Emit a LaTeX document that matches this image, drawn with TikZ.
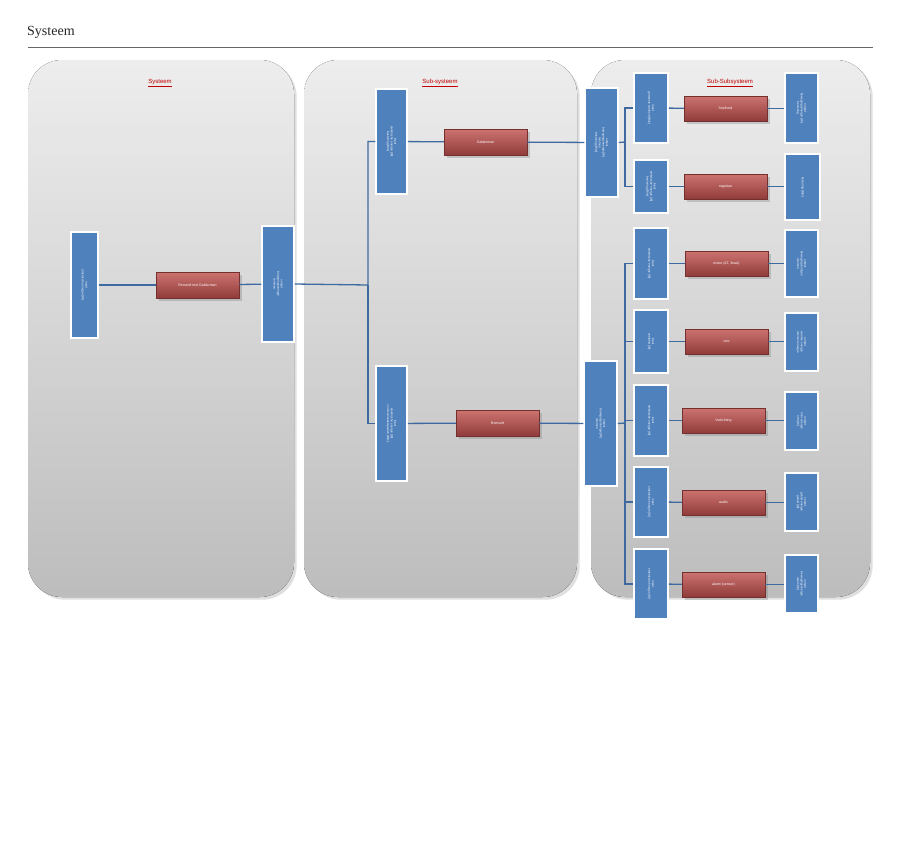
\documentclass[tikz,border=0pt]{standalone}
\usepackage{fontspec}
\setmainfont{Liberation Sans}
\newfontfamily\titlefont{Liberation Serif}
\usetikzlibrary{shadows}
\definecolor{bl}{HTML}{4F81BD}
\definecolor{ln}{HTML}{3F6AA0}
\definecolor{rd}{HTML}{C0504D}
\tikzset{
 panel/.style={rounded corners=34pt, top color=black!7, bottom color=black!26, draw=none, drop shadow={opacity=0.25}},
 bbox/.style={fill=bl, draw=white, line width=1.5pt, inner sep=0pt, text=white, font=\fontsize{3}{3.6}\selectfont, align=center},
 rbox/.style={top color=rd!80!white, bottom color=rd!75!black, draw=rd!60!black, line width=0.5pt, inner sep=0pt, text=white, font=\fontsize{3.5}{4}\selectfont, drop shadow={opacity=0.35}},
 conn/.style={draw=ln, line width=1.3pt},
 ptitle/.style={text=red!75!black, font=\fontsize{6}{7}\selectfont\scshape, inner sep=1pt}
}
\newcommand{\bb}[6]{\node[bbox, minimum width={#4-#2}, minimum height={#5-#3}] (#1) at ({(#2+#4)/2},{(#3+#5)/2}) {\rotatebox{-90}{\begin{tabular}{c}#6\end{tabular}}};}
\newcommand{\rb}[6]{\node[rbox, minimum width={#4-#2}, minimum height={#5-#3}] (#1) at ({(#2+#4)/2},{(#3+#5)/2}) {#6};}
\begin{document}
\begin{tikzpicture}[x=1pt,y=-1pt]
\useasboundingbox[fill=white] (0,0) rectangle (903,841);
\node[anchor=west, inner sep=0pt, font=\titlefont\fontsize{14}{16}\selectfont, text=black!85] (title) at (27,32) {Systeem};
\draw[black!60, line width=0.6pt] (28,47) -- (873,47);
\fill[panel] (28,60) rectangle (294,597);
\fill[panel] (304,60) rectangle (577,597);
\fill[panel] (591,60) rectangle (870,597);
\node[ptitle] (t1) at (160,83) {\underline{Systeem}};
\node[ptitle] (t2) at (440,83) {\underline{Sub-systeem}};
\node[ptitle] (t3) at (730,83) {\underline{Sub-Subsysteem}};
% system
\bb{in1}{71}{232}{98}{338}{input\\elektrische energie [W]}
\rb{r1}{156}{272}{239}{298}{Remsoft met Galderman}
\bb{out1}{262}{226}{294}{342}{output\\bewegingsenergie\\remmen}
% subsystem
\bb{sa}{376}{89}{407}{194}{input\\elektrische energie [W]\\besturing [Bits]}
\rb{ra}{444}{129}{527}{155}{Galderman}
\bb{oa}{585}{88}{618}{197}{output\\bewegingsenergie [W]\\remmen\\besturing [Bits]}
\bb{sb}{376}{366}{407}{481}{input\\elektrische energie [W]\\communicatiesignalen [Bits]}
\rb{rb}{456}{410}{539}{436}{Remsoft}
\bb{ob}{584}{361}{617}{486}{output\\bewegingsenergie [W]\\remmen}
% sub-subsystem
\bb{i1}{634}{73}{668}{143}{input\\gewenste snelheid [Bits]}
\bb{i2}{634}{160}{668}{213}{input\\elektrische energie [W]\\besturing [Bits]}
\bb{i3}{634}{228}{668}{299}{input\\elektrische energie [W]}
\bb{i4}{634}{310}{668}{373}{input\\snelheid [W]}
\bb{i5}{634}{385}{668}{456}{input\\elektrische energie [W]}
\bb{i6}{634}{467}{668}{537}{input\\elektrische energie [W]}
\bb{i7}{634}{549}{668}{619}{input\\elektrische energie [W]}
\rb{q1}{684}{96}{767}{121}{Snelheid}
\rb{q2}{684}{174}{767}{199}{regelaar}
\rb{q3}{685}{251}{768}{276}{motor (AT, 3naA)}
\rb{q4}{685}{329}{768}{354}{vmc}
\rb{q5}{682}{408}{765}{433}{Verlichting}
\rb{q6}{682}{490}{765}{515}{audio}
\rb{q7}{682}{572}{765}{597}{alarm (sensor)}
\bb{o1}{785}{73}{818}{143}{output\\bewegingsenergie [W]\\besturing}
\bb{o2}{785}{154}{820}{220}{besturing [Bits]}
\bb{o3}{785}{230}{818}{297}{output\\bewegingsenergie\\remmen}
\bb{o4}{785}{313}{818}{371}{output\\warmte energie\\remmen energie}
\bb{o5}{785}{392}{818}{450}{output\\licht energie\\licht [W]}
\bb{o6}{785}{473}{818}{531}{output\\geluid energie\\geluid [W]}
\bb{o7}{785}{555}{818}{613}{output\\bewegingsenergie\\alarm [W]}
% connectors
\draw[conn] (in1) -- (r1);
\draw[conn] (r1) -- (out1);
\coordinate (bs1) at (368,285);
\draw[conn] (out1.east) -- (bs1) |- (sa.west);
\draw[conn] (bs1) |- (sb.west);
\draw[conn] (sa) -- (ra);
\draw[conn] (ra) -- (oa);
\draw[conn] (sb) -- (rb);
\draw[conn] (rb) -- (ob);
\coordinate (bs2) at (625,142);
\draw[conn] (oa.east) -- (bs2);
\draw[conn] (bs2) |- (i1.west);
\draw[conn] (bs2) |- (i2.west);
\coordinate (bs3) at (625,423);
\draw[conn] (ob.east) -- (bs3);
\foreach \i in {3,...,7}{\draw[conn] (bs3) |- (i\i.west);}
\foreach \i in {1,...,7}{\draw[conn] (i\i) -- (q\i); \draw[conn] (q\i) -- (o\i.west|-q\i);}
\end{tikzpicture}
\end{document}
